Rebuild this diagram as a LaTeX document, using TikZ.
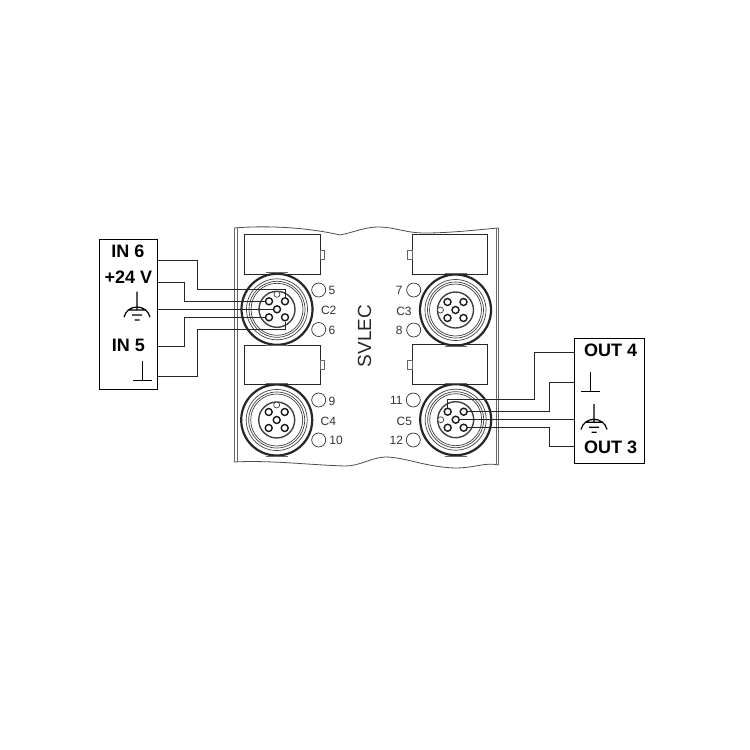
\documentclass[tikz,border=0pt]{standalone}
\usepackage{fontspec}
\setmainfont{Liberation Sans}
\tikzset{
  wire/.style={line width=1pt, black!85},
  casing/.style={line width=0.9pt, black!85},
  boxlabel/.style={font=\fontsize{18}{18}\selectfont\bfseries, inner sep=0pt},
  smalllabel/.style={font=\fontsize{12}{12}\selectfont, black!80, inner sep=0pt},
  led/.style={circle, draw, black!80, line width=0.7pt, minimum size=14pt, inner sep=0pt},
  ring/.style={circle, draw, black!75, inner sep=0pt, line width=0.7pt},
  pinhole/.style={circle, draw, black!90, line width=1.4pt, minimum size=7pt, inner sep=0pt, fill=white}
}
\newcommand{\connector}[4]{
  \draw[line width=2.2pt, black!85] (#2,#3) circle (35.5);
  \draw[black!60, line width=1.2pt] (#2-11,#3-36.5) -- (#2+11,#3-36.5) (#2-11,#3+36.5) -- (#2+11,#3+36.5);
  \node[ring, minimum size=61pt] (#1r) at (#2,#3) {};
  \node[ring, minimum size=56pt] (#1s) at (#2,#3) {};
  \node[ring, minimum size=52pt] (#1t) at (#2,#3) {};
  \node[ring, line width=1.4pt, minimum size=36pt] (#1u) at (#2,#3) {};
  \draw[black!75, line width=0.7pt, fill=white] (#2,#3)++(#4:15) circle (3);
  \node[pinhole] (#1a) at (#2-8,#3-8) {};
  \node[pinhole] (#1b) at (#2+8,#3-8) {};
  \node[pinhole] (#1c) at (#2-8,#3+8) {};
  \node[pinhole] (#1d) at (#2+8,#3+8) {};
  \node[pinhole] (#1e) at (#2,#3) {};
}
\newcommand{\gndsym}[2]{
  \draw[line width=1.2pt] (#1,#2) -- (#1,#2+18.3)
    (#1-13,#2+25.5) .. controls (#1-11.5,#2+19) and (#1-6,#2+15.3) .. (#1,#2+15.3)
    .. controls (#1+6,#2+15.3) and (#1+11.5,#2+19) .. (#1+13,#2+25.5)
    (#1-8.3,#2+18.3) -- (#1+8.3,#2+18.3)
    (#1-5,#2+23.3) -- (#1+5,#2+23.3)
    (#1-2.5,#2+28.3) -- (#1+2.5,#2+28.3);
}
\newcommand{\teesym}[2]{
  \draw[line width=1.2pt] (#1,#2) -- (#1,#2+19.5) (#1-9.5,#2+19.5) -- (#1+9.5,#2+19.5);
}
\begin{document}
\begin{tikzpicture}[x=1pt, y=-1pt]
  \useasboundingbox (0,0) rectangle (750,750);

  \draw[line width=0.8pt, black!70] (234,228)
    .. controls (270,225) and (310,228) .. (340,235)
    .. controls (355,232) and (365,227) .. (378,227)
    .. controls (395,227) and (405,233) .. (425,233)
    .. controls (450,233) and (475,230) .. (498.5,228);
  \draw[line width=0.8pt, black!70] (498.5,465)
    .. controls (485,462) and (475,468) .. (455,468)
    .. controls (425,467) and (405,457) .. (385,457)
    .. controls (370,458) and (360,466) .. (345,466)
    .. controls (310,465) and (270,460) .. (234,462);
  \draw[line width=1pt, black!60] (234,228) -- (234,462);
  \draw[line width=1pt, black!60] (237,228) -- (237,462);
  \draw[line width=1pt, black!60] (496,228) -- (496,465);
  \draw[line width=1pt, black!60] (498.5,228) -- (498.5,465);

  \node[draw, casing, minimum width=75.3pt, minimum height=39.6pt, inner sep=0pt] (rect1) at (282.3,254.5) {};
  \node[draw, casing, minimum width=75.3pt, minimum height=39.3pt, inner sep=0pt] (rect2) at (282.3,364.7) {};
  \node[draw, casing, minimum width=75pt, minimum height=40pt, inner sep=0pt] (rect3) at (450.2,254.3) {};
  \node[draw, casing, minimum width=75.4pt, minimum height=39.6pt, inner sep=0pt] (rect4) at (450,364.5) {};
  \draw[casing, black!60] (320,250) rectangle (324.7,259.3);
  \draw[casing, black!60] (320,360) rectangle (324.7,369.3);
  \draw[casing, black!60] (407.7,250) rectangle (412.7,259.3);
  \draw[casing, black!60] (407.7,360) rectangle (412.3,369.3);

  \connector{ctwo}{277}{309.3}{-90}
  \connector{cthree}{455.5}{310}{180}
  \connector{cfour}{276.7}{420}{-90}
  \connector{cfive}{455.7}{419.7}{180}

  \node[led] (led5) at (318.7,290) {};
  \node[led] (led6) at (318.7,329.5) {};
  \node[led] (led9) at (318.7,400) {};
  \node[led] (led10) at (318.7,440) {};
  \node[led] (led7) at (413.7,290) {};
  \node[led] (led8) at (413.7,330) {};
  \node[led] (led11) at (413.3,400) {};
  \node[led] (led12) at (413.3,440) {};

  \node[smalllabel] (lab5) at (332,290.7) {5};
  \node[smalllabel] (labc2) at (328.7,310.7) {C2};
  \node[smalllabel] (lab6) at (332,330) {6};
  \node[smalllabel] (lab9) at (332,401) {9};
  \node[smalllabel] (labc4) at (328.3,421) {C4};
  \node[smalllabel] (lab10) at (336,440.7) {10};
  \node[smalllabel] (lab7) at (399.3,290) {7};
  \node[smalllabel] (labc3) at (404,311) {C3};
  \node[smalllabel] (lab8) at (399.3,330) {8};
  \node[smalllabel] (lab11) at (396.3,400.7) {11};
  \node[smalllabel] (labc5) at (404.3,421.7) {C5};
  \node[smalllabel] (lab12) at (396.3,440.7) {12};
  \node[inner sep=0pt, rotate=90, font=\fontsize{19}{19}\selectfont, black!85] (svlec) at (364.5,336) {SVLEC};

  \node[draw, line width=1pt, minimum width=58.4pt, minimum height=150.7pt, inner sep=0pt] (inbox) at (128.5,314.6) {};
  \node[draw, line width=1pt, minimum width=69.6pt, minimum height=124.6pt, inner sep=0pt] (outbox) at (609.5,401) {};

  \node[boxlabel] (in6) at (128,251.7) {IN 6};
  \node[boxlabel] (plus24) at (128.3,277.3) {+24 V};
  \node[boxlabel] (in5) at (128.3,345) {IN 5};
  \node[boxlabel] (out4) at (610.7,350.7) {OUT 4};
  \node[boxlabel] (out3) at (610.7,447.7) {OUT 3};
  \gndsym{137}{291.7}
  \teesym{142.7}{361}
  \gndsym{594}{404}
  \teesym{590.7}{371.7}

  \coordinate (inw1) at (157.7,260);
  \coordinate (inw2) at (157.7,282.7);
  \coordinate (inw3) at (157.7,309.3);
  \coordinate (inw4) at (157.7,346);
  \coordinate (inw5) at (157.7,376);
  \coordinate (outw1) at (574.7,352.7);
  \coordinate (outw2) at (574.7,382.7);
  \coordinate (outw3) at (574.7,419.7);
  \coordinate (outw4) at (574.7,446);

  \draw[wire] (inw1) -- (197.7,260) -- (197.7,289.7) -- (285,289.7) -- (ctwob);
  \draw[wire] (inw2) -- (184.3,282.7) -- (184.3,301.3) -- (ctwoa);
  \draw[wire] (inw3) -- (ctwoe);
  \draw[wire] (inw4) -- (184.3,346) -- (184.3,317.3) -- (ctwoc);
  \draw[wire] (inw5) -- (197.7,376) -- (197.7,329.7) -- (285,329.7) -- (ctwod);

  \draw[wire] (outw1) -- (534.3,352.7) -- (534.3,399) -- (447.7,399) -- (cfivea);
  \draw[wire] (outw2) -- (549,382.7) -- (549,411.7) -- (cfiveb);
  \draw[wire] (outw3) -- (cfivee);
  \draw[wire] (outw4) -- (549,446) -- (549,427.7) -- (cfived);
\end{tikzpicture}
\end{document}
